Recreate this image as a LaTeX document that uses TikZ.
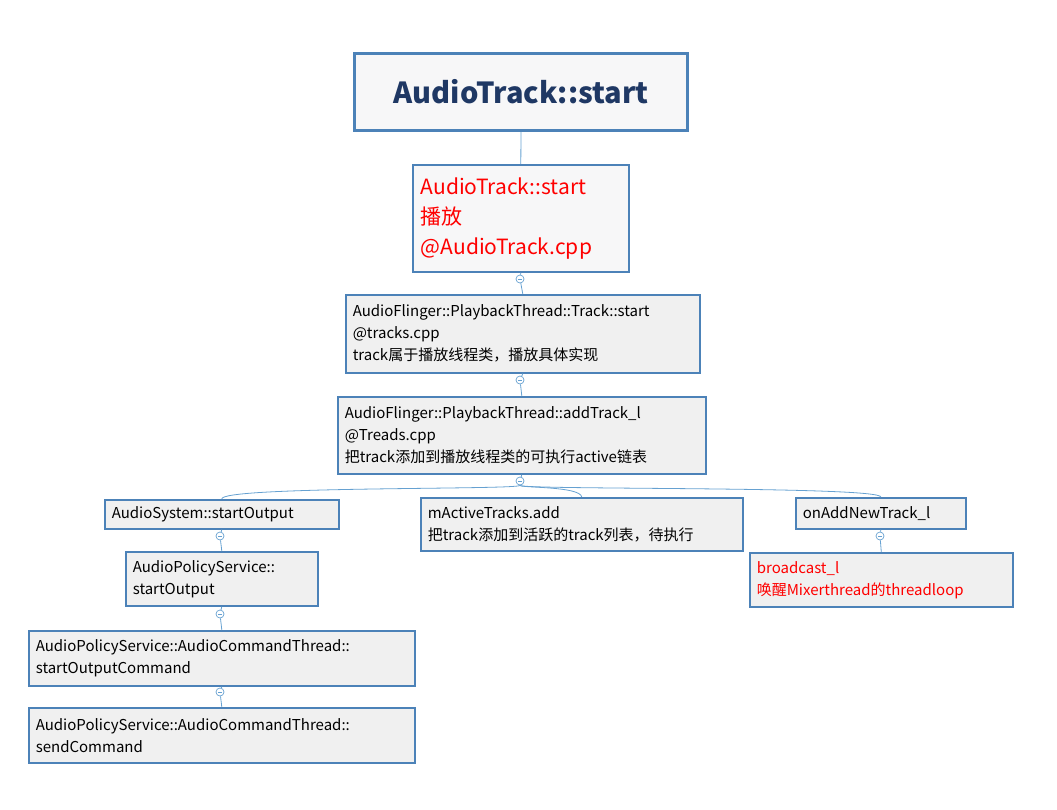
\documentclass[tikz,border=0pt]{standalone}
\usepackage{fontspec}
\setmainfont{Noto Sans CJK SC}
\begin{document}
\begin{tikzpicture}[x=1pt,y=-1pt,
  bc/.style={draw=blue!50!cyan!60!black!70, line width=1.6pt},
  box/.style={bc, fill=black!6, anchor=north west, align=left, inner xsep=7pt, inner ysep=2pt,
    font=\fontsize{15}{22}\selectfont},
  ln/.style={draw=blue!45!cyan!70!black!60, line width=0.8pt},
  col/.style={circle, draw=blue!45!cyan!70!black!60, fill=white, line width=0.7pt, minimum size=8pt, inner sep=0pt,
    path picture={\draw[blue!45!cyan!70!black!60, line width=0.6pt] ([xshift=-2pt]path picture bounding box.center) -- ([xshift=2pt]path picture bounding box.center);}}]
\definecolor{tb}{HTML}{1F3864}
\useasboundingbox (0,0) rectangle (1057,809);
\node[box, line width=3pt, fill=blue!15!black!3!white, minimum width=333pt, minimum height=77pt, align=center, anchor=north west,
  font=\fontsize{29}{34}\selectfont\bfseries, text=tb] (t) at (353,52) {AudioTrack::start};
\node[box, fill=blue!15!black!3!white, text=red, minimum width=216pt, minimum height=107pt, text width=200pt,
  font=\fontsize{21}{30}\selectfont] (a) at (412,164) {AudioTrack::start\\播放\\@AudioTrack.cpp};
\node[box, minimum width=353pt, minimum height=78pt, text width=340pt] (b) at (345,294)
  {AudioFlinger::PlaybackThread::Track::start\\@tracks.cpp\\track属于播放线程类，播放具体实现};
\node[box, minimum width=367pt, minimum height=77pt, text width=354pt] (c) at (337,396)
  {AudioFlinger::PlaybackThread::addTrack\_l\\@Treads.cpp\\把track添加到播放线程类的可执行active链表};
\node[box, minimum width=233pt, minimum height=29pt, text width=220pt] (d) at (104,499) {AudioSystem::startOutput};
\node[box, minimum width=322pt, minimum height=53pt, text width=308pt] (e) at (420,497) {mActiveTracks.add\\把track添加到活跃的track列表，待执行};
\node[box, minimum width=170pt, minimum height=31pt, text width=156pt] (f) at (795,497) {onAddNewTrack\_l};
\node[box, minimum width=191pt, minimum height=54pt, text width=178pt] (g) at (125,551) {AudioPolicyService::\\startOutput};
\node[box, minimum width=386pt, minimum height=55pt, text width=372pt] (h) at (28,630) {AudioPolicyService::AudioCommandThread::\\startOutputCommand};
\node[box, minimum width=386pt, minimum height=55pt, text width=372pt] (i) at (28,707) {AudioPolicyService::AudioCommandThread::\\sendCommand};
\node[box, text=red, minimum width=263pt, minimum height=54pt, text width=249pt] (j) at (749,552) {broadcast\_l\\唤醒Mixerthread的threadloop};
\draw[ln] (t.south) -- (a.north);
\node[col] (ca) at (520,279) {};
\node[col] (cb) at (520,380) {};
\node[col] (cc) at (520,481) {};
\node[col] (cd) at (220,536) {};
\node[col] (cg) at (220,614) {};
\node[col] (ch) at (220,692) {};
\node[col] (cf) at (880,536) {};
\draw[ln] (a.south) -- (ca) -- (b.north);
\draw[ln] (b.south) -- (cb) -- (c.north);
\draw[ln] (c.south) -- (cc);
\draw[ln] (cc.south) .. controls (520,490) and (220,486) .. (d.north);
\draw[ln] (cc.south) .. controls (520,488) and (580,486) .. (e.north);
\draw[ln] (cc.south) .. controls (520,490) and (880,486) .. (f.north);
\draw[ln] (d.south) -- (cd) -- (g.north);
\draw[ln] (g.south) -- (cg) -- (h.north);
\draw[ln] (h.south) -- (ch) -- (i.north);
\draw[ln] (f.south) -- (cf) -- (j.north);
\end{tikzpicture}
\end{document}
